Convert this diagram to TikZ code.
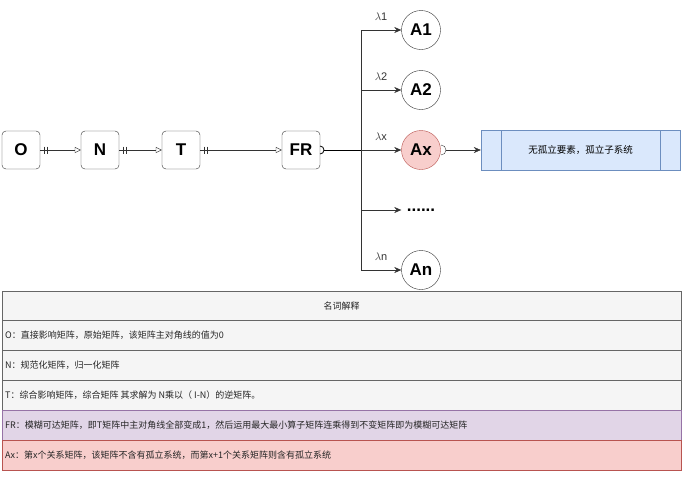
\documentclass[tikz,border=0pt]{standalone}
\usepackage{fontspec}
\setmainfont{Liberation Sans}
\newfontfamily\cjk{Noto Sans CJK SC}
\usetikzlibrary{arrows.meta}
\definecolor{bfill}{HTML}{DAE8FC}\definecolor{bline}{HTML}{6C8EBF}
\definecolor{rfill}{HTML}{F8CECC}\definecolor{rline}{HTML}{B85450}
\definecolor{pfill}{HTML}{E1D5E7}\definecolor{pline}{HTML}{9673A6}
\begin{document}
\begin{tikzpicture}[x=1pt,y=-1pt,
  sq/.style={draw=black!80,rounded corners=4pt,minimum width=38pt,minimum height=38pt,font=\bfseries\fontsize{17}{17}\selectfont,fill=white},
  circ/.style={draw=black!80,circle,minimum size=39pt,inner sep=0pt,font=\bfseries\fontsize{17}{17}\selectfont,fill=white},
  rel/.style={draw=black!80,-{Triangle[open,length=6pt,width=6pt]}},
  br/.style={draw=black!80,-{Stealth[length=7pt,width=6pt]}},
  lam/.style={font=\fontsize{11}{11}\selectfont,text=black!80},
  row/.style={draw=black!60,fill=black!4,minimum width=679pt,minimum height=30pt,anchor=north west,inner sep=0pt},
  rt/.style={font=\cjk\fontsize{9}{10}\selectfont,text=black!85,inner sep=3pt}]
\useasboundingbox (0,0) rectangle (687,477);
\node[sq] (O) at (21,150) {O};
\node[sq] (N) at (100,150) {N};
\node[sq] (T) at (181,150) {T};
\node[sq] (FR) at (301,150) {FR};
\draw[rel] (O.east) -- (N.west);
\draw[rel] (N.east) -- (T.west);
\draw[rel] (T.east) -- (FR.west);
\foreach \n in {O,N,T}{
  \foreach \d in {4pt,7pt}{
    \draw[black!80] ([xshift=\d,yshift=3.5pt]\n.east) -- ([xshift=\d,yshift=-3.5pt]\n.east);
  }
}
\node[circ] (A1) at (421,30) {A1};
\node[circ] (A2) at (421,90) {A2};
\node[circ,fill=rfill,draw=rline] (Ax) at (421,150) {Ax};
\node[circle,minimum size=39pt,inner sep=0pt,font=\bfseries\fontsize{17}{17}\selectfont] (D) at (421,210) {......};
\node[circ] (An) at (421,270) {An};
\coordinate (J) at (361,150);
\draw[thick] (320,154) arc[start angle=90,end angle=-90,radius=4];
\draw[thick] (324,150) -- (J);
\foreach \t/\l/\y in {A1/$\lambda$1/30,A2/$\lambda$2/90,Ax/$\lambda$x/150,D//210,An/$\lambda$n/270}{
  \draw[br] (J |- \t.west) -- (\t.west);
  \node[lam] at (381,\y-13) {\l};
}
\draw[draw=black!80] (361,30) -- (361,270);
\node[draw=bline,fill=bfill,minimum width=199pt,minimum height=40pt,inner sep=0pt,font=\cjk\fontsize{9.5}{10}\selectfont] (S) at (580.5,150) {无孤立要素，孤立子系统};
\draw[draw=bline] (501,130) -- (501,170) (660,130) -- (660,170);
\draw[draw=black!80] (441,155) arc[start angle=90,end angle=-90,radius=5];
\draw[br] (446,150) -- (S.west);
\node[row] (r0) at (2,291) {};
\node[rt] at (r0.center) {名词解释};
\node[row] (r1) at (2,320) {};
\node[rt,anchor=west] at (r1.west) {O：直接影响矩阵，原始矩阵，该矩阵主对角线的值为0};
\node[row] (r2) at (2,350) {};
\node[rt,anchor=west] at (r2.west) {N：规范化矩阵，归一化矩阵};
\node[row] (r3) at (2,380) {};
\node[rt,anchor=west] at (r3.west) {T：综合影响矩阵，综合矩阵 其求解为 N乘以（ I-N）的逆矩阵。};
\node[row,fill=pfill,draw=pline] (r4) at (2,410) {};
\node[rt,anchor=west] at (r4.west) {FR：模糊可达矩阵，即T矩阵中主对角线全部变成1，然后运用最大最小算子矩阵连乘得到不变矩阵即为模糊可达矩阵};
\node[row,fill=rfill,draw=rline] (r5) at (2,440) {};
\node[rt,anchor=west] at (r5.west) {Ax：第x个关系矩阵，该矩阵不含有孤立系统，而第x+1个关系矩阵则含有孤立系统};
\end{tikzpicture}
\end{document}
